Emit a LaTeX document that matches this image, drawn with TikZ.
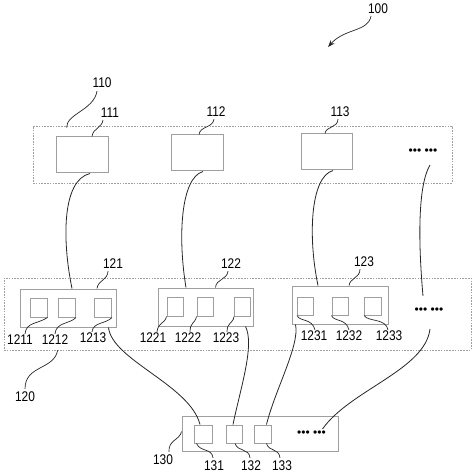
\documentclass[tikz,border=0pt]{standalone}
\usepackage{fontspec}
\setmainfont{Liberation Sans}
\newfontfamily\labfont[FakeStretch=0.85]{Liberation Sans}
\usetikzlibrary{calc,arrows.meta}
\begin{document}
\begin{tikzpicture}[x=1pt,y=-1pt]
\tikzset{
 grp/.style={draw=gray!75, dash pattern=on 1.6pt off 1.2pt, line width=0.7pt, inner sep=0, rectangle},
 unitbox/.style={draw=gray!75, line width=1pt, inner sep=0, rectangle},
 port/.style={draw=gray!75, line width=1pt, inner sep=0, rectangle},
 lab/.style={font=\labfont\fontsize{14}{14}\selectfont, inner sep=0},
 wire/.style={line width=0.8pt, black!85},
 lead/.style={line width=0.7pt, black!85},
 dotsn/.style={font=\fontsize{12}{12}\selectfont, inner sep=0},
}
\useasboundingbox (0,0) rectangle (474,473);

% layer 110
\node[grp, minimum width=419, minimum height=57] (b110) at (242.5,154.5) {};
\node[unitbox, minimum width=52, minimum height=36] (b111) at (82,155) {};
\node[unitbox, minimum width=52, minimum height=36] (b112) at (197,153) {};
\node[unitbox, minimum width=51, minimum height=36] (b113) at (326.5,152) {};
\node[dotsn] (d110) at (423,152) {••• •••};

% layer 120
\node[grp, minimum width=467, minimum height=72] (b120) at (237.5,314) {};
\node[unitbox, minimum width=96, minimum height=38] (b121) at (68,308) {};
\node[port, minimum width=17, minimum height=19] (p1211) at (38.5,307.5) {};
\node[port, minimum width=17, minimum height=19] (p1212) at (67,307.5) {};
\node[port, minimum width=17, minimum height=19] (p1213) at (103,307.5) {};
\node[unitbox, minimum width=95, minimum height=38] (b122) at (205.5,307) {};
\node[port, minimum width=16, minimum height=19] (p1221) at (175,306.5) {};
\node[port, minimum width=16, minimum height=19] (p1222) at (205,306.5) {};
\node[port, minimum width=16, minimum height=19] (p1223) at (242.5,306.5) {};
\node[unitbox, minimum width=96, minimum height=38] (b123) at (340,305) {};
\node[port, minimum width=16, minimum height=18] (p1231) at (305.5,306) {};
\node[port, minimum width=16, minimum height=18] (p1232) at (340,306) {};
\node[port, minimum width=17, minimum height=18] (p1233) at (373,306) {};
\node[dotsn] (d120) at (429,311) {••• •••};

% layer 130
\node[unitbox, minimum width=156, minimum height=35] (b130) at (260,433.5) {};
\node[port, minimum width=18, minimum height=18] (p131) at (203,434) {};
\node[port, minimum width=16, minimum height=18] (p132) at (234,434) {};
\node[port, minimum width=17, minimum height=18] (p133) at (262.5,434) {};
\node[dotsn] (d130) at (311.5,434) {••• •••};

% labels
\node[lab] (l100) at (378,9) {100};
\node[lab] (l110) at (102,83) {110};
\node[lab] (l111) at (110,113) {111};
\node[lab] (l112) at (216,112) {112};
\node[lab] (l113) at (340,112) {113};
\node[lab] (l121) at (113,264) {121};
\node[lab] (l122) at (231,264) {122};
\node[lab] (l123) at (364,262) {123};
\node[lab] (l1211) at (20,340) {1211};
\node[lab] (l1212) at (55,340) {1212};
\node[lab] (l1213) at (93,338) {1213};
\node[lab] (l1221) at (153,338) {1221};
\node[lab] (l1222) at (188,338) {1222};
\node[lab] (l1223) at (226,338) {1223};
\node[lab] (l1231) at (314,336) {1231};
\node[lab] (l1232) at (349,336) {1232};
\node[lab] (l1233) at (389,336) {1233};
\node[lab] (l120) at (25,397) {120};
\node[lab] (l130) at (163,460) {130};
\node[lab] (l131) at (214,466) {131};
\node[lab] (l132) at (251,466) {132};
\node[lab] (l133) at (282,466) {133};

% arrow 100
\coordinate (a100) at (328,47);
\draw[lead, -{Stealth[length=7pt,width=5pt]}] ($(l100.south)+(-7,2)$) .. controls (368,32) and (345,28) .. (a100);

% leaders
\draw[lead] ($(b110.north west)+(34,2)$) .. controls (66,114) and (94,110) .. ($(l110.south)+(-5,3)$);
\draw[lead] ($(b111.north)+(10,0)$) .. controls (93,128) and (102,128) .. ($(l111.south)+(-7,2)$);
\draw[lead] ($(b112.north)+(2,0)$) .. controls (200,126) and (213,128) .. ($(l112.south)+(-2,2)$);
\draw[lead] ($(b113.north)+(-1.5,0)$) .. controls (326,126) and (338,128) .. ($(l113.south)+(-2,2)$);
\draw[lead] ($(b121.north)+(29,0)$) .. controls (98,280) and (108,280) .. ($(l121.south)+(-5,2)$);
\draw[lead] ($(b122.north)+(10,0)$) .. controls (216,279) and (227,280) .. ($(l122.south)+(-3,2)$);
\draw[lead] ($(b123.north)+(9,0)$) .. controls (350,278) and (360,278) .. ($(l123.south)+(-4,2)$);
\draw[lead] (p1211.south east) .. controls (38,324) and (26,322) .. ($(l1211.north)+(5,-1)$);
\draw[lead] (p1212.south east) .. controls (70,324) and (56,322) .. ($(l1212.north)+(0,-1)$);
\draw[lead] (p1213.south east) .. controls (106,324) and (93,322) .. ($(l1213.north)+(-1,-1)$);
\draw[lead] (p1221.south west) .. controls (165,324) and (158,322) .. ($(l1221.north)+(4,-1)$);
\draw[lead] (p1222.south west) .. controls (195,324) and (190,322) .. ($(l1222.north)+(2,-1)$);
\draw[lead] (p1223.south west) .. controls (233,324) and (227,322) .. ($(l1223.north)+(1,-1)$);
\draw[lead] (p1231.south west) .. controls (300,322) and (312,318) .. ($(l1231.north)+(1,-1)$);
\draw[lead] (p1232.south west) .. controls (334,322) and (346,318) .. ($(l1232.north)+(0,-1)$);
\draw[lead] (p1233.south west) .. controls (368,322) and (386,318) .. ($(l1233.north)+(-1,-1)$);
\draw[lead] ($(b120.south west)+(54,0)$) .. controls (54,370) and (25,365) .. ($(l120.north)+(0,-3)$);
\draw[lead] ($(b130.west)+(0,-2)$) .. controls (180,440) and (168,440) .. ($(l130.north)+(6,-3)$);
\draw[lead] ($(p131.south west)+(3,0)$) .. controls (200,452) and (212,448) .. ($(l131.north)+(-1,-3)$);
\draw[lead] ($(p132.south)+(1,0)$) .. controls (238,452) and (249,448) .. ($(l132.north)+(-1,-3)$);
\draw[lead] ($(p133.south)+(4,0)$) .. controls (269,452) and (279,448) .. ($(l133.north)+(-2,-3)$);

% wires 110 -> 120
\draw[wire] ($(b111.south)+(8,0)$) .. controls (62,180) and (62,240) .. ($(b121.north)+(4,0)$);
\draw[wire] ($(b112.south)+(6,0)$) .. controls (180,178) and (178,240) .. ($(b122.north)+(-19.5,0)$);
\draw[wire] ($(b113.south)+(6.5,0)$) .. controls (310,177) and (308,238) .. ($(b123.north)+(-22,0)$);
\draw[wire] ($(d110.south)+(7,10)$) .. controls (418,185) and (418,240) .. ($(d120.north)+(-6,-12)$);

% wires 120 -> 130
\draw[wire] ($(b121.south east)+(-8,0)$) .. controls (112,360) and (190,385) .. ($(p131.north)+(-3,0)$);
\draw[wire] ($(b122.south east)+(-8,0)$) .. controls (255,345) and (240,390) .. ($(p132.north)+(-1,0)$);
\draw[wire] ($(b123.south west)+(4,0)$) .. controls (300,345) and (275,390) .. ($(p133.north)+(4,0)$);
\draw[wire] ($(d120.south)+(1,15)$) .. controls (425,370) and (350,390) .. ($(d130.north)+(11,-2)$);
\end{tikzpicture}
\end{document}
